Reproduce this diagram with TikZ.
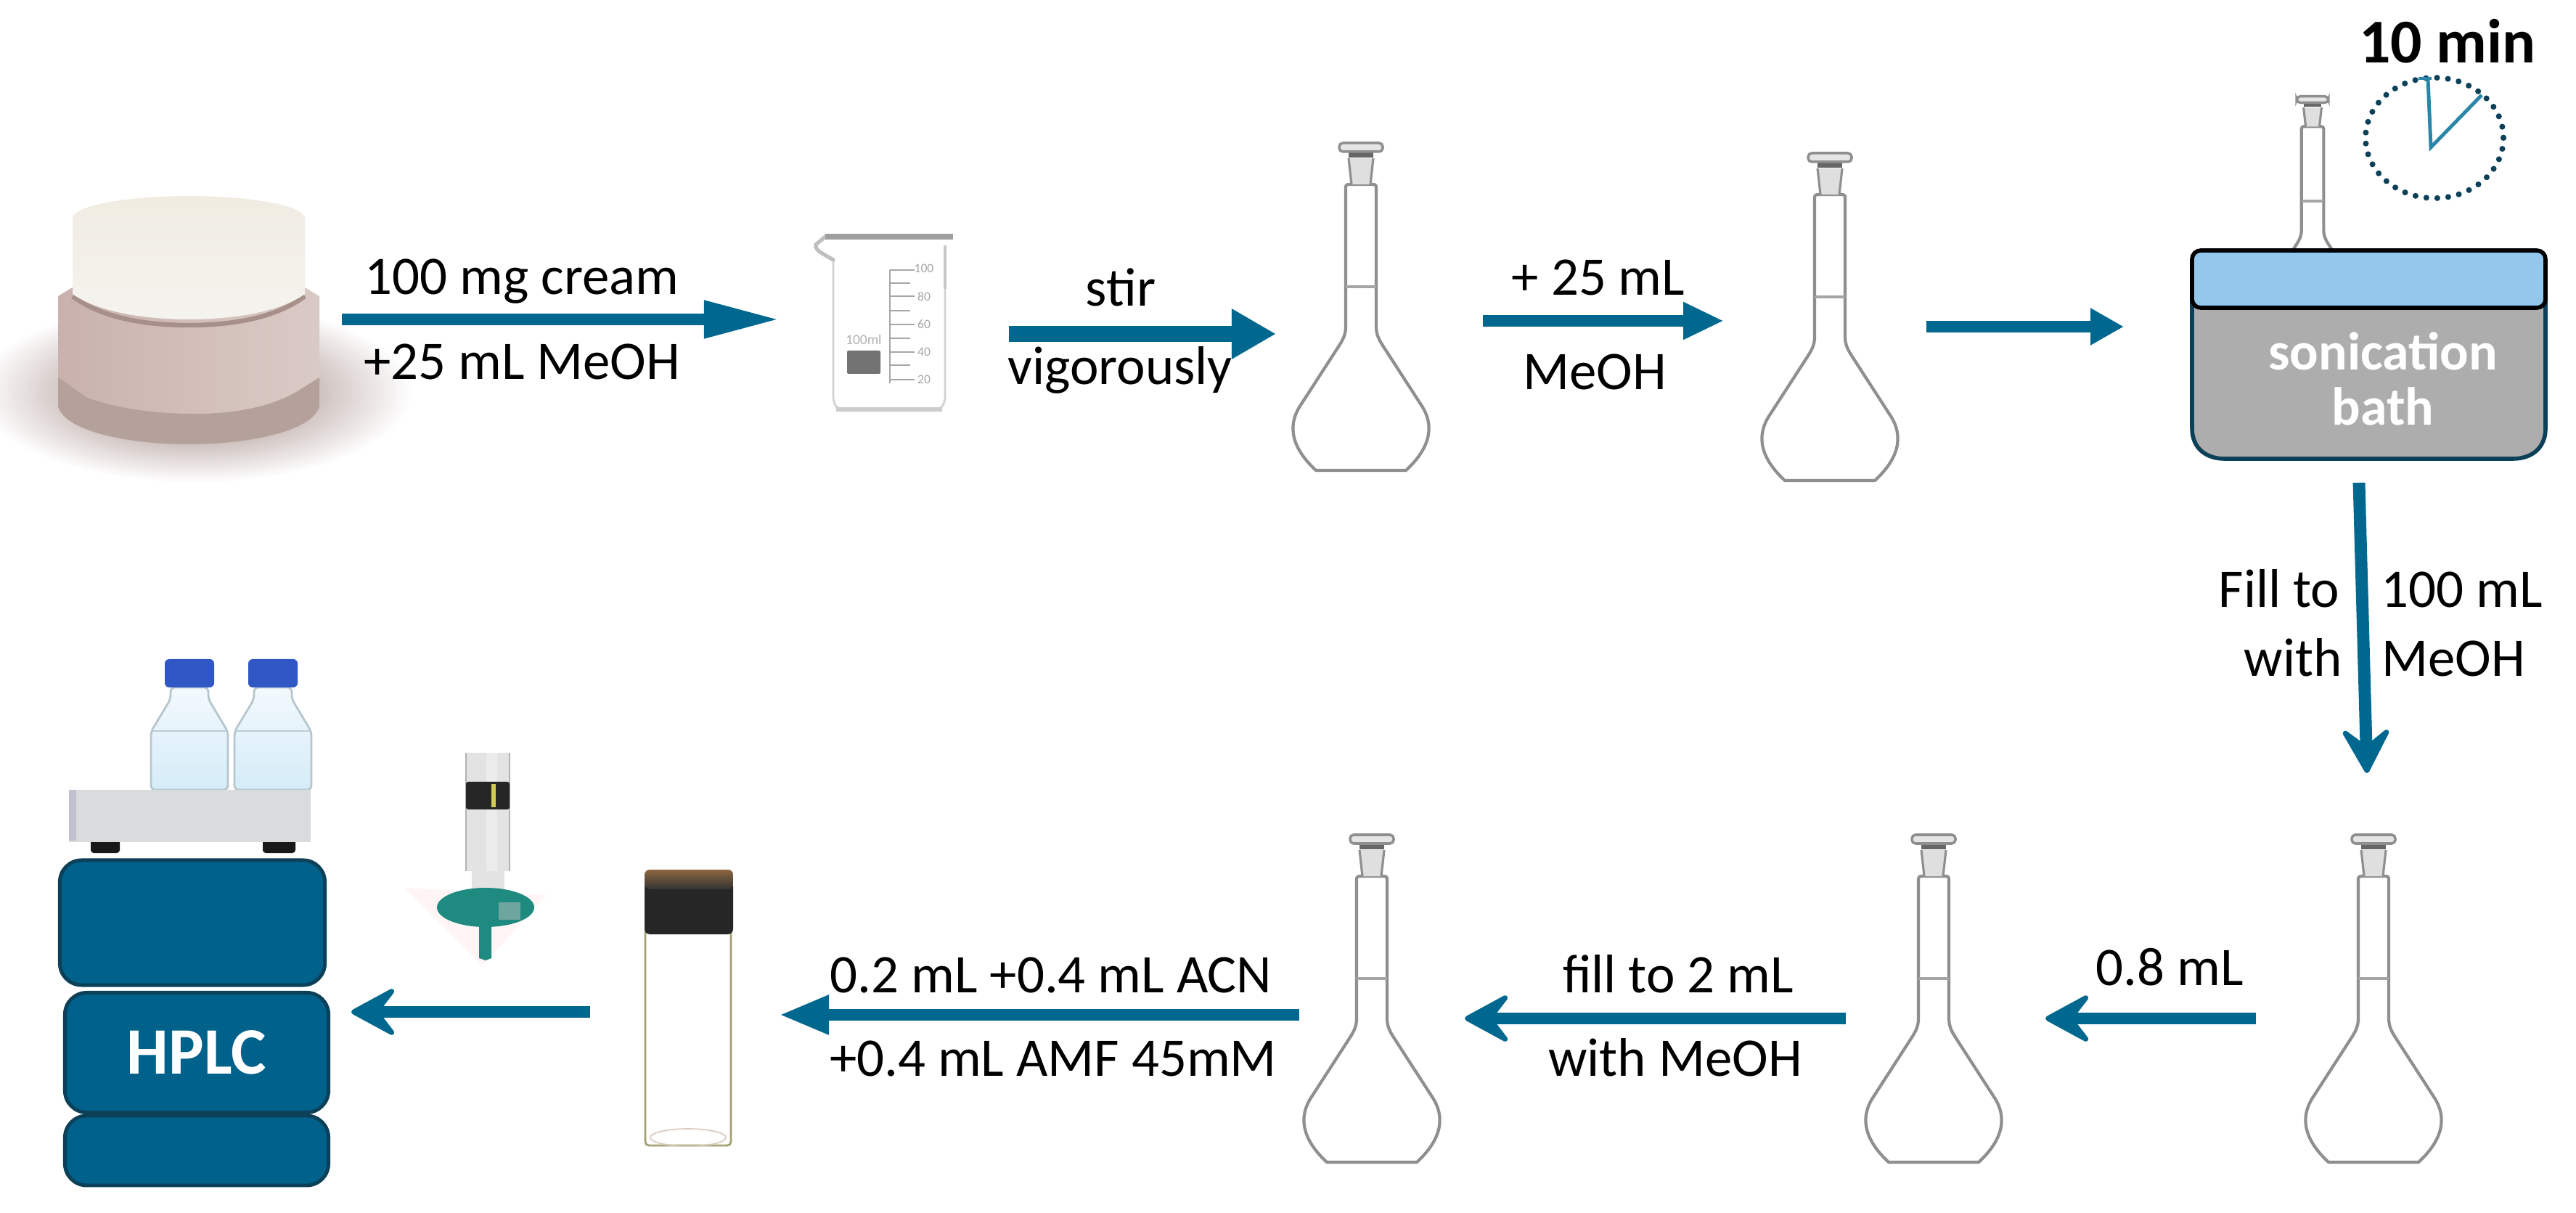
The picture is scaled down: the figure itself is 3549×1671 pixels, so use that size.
\documentclass[tikz,border=0pt]{standalone}
\usepackage{fontspec}
\setmainfont{Carlito}
\usetikzlibrary{arrows.meta}

\definecolor{flowblue}{HTML}{00688F}
\definecolor{hplcblue}{HTML}{00618A}
\definecolor{darkteal}{HTML}{0B4058}
\definecolor{glassgray}{HTML}{8F8F8F}
\definecolor{lidblue}{HTML}{93C8EC}
\definecolor{bathgray}{HTML}{ADADAD}
\definecolor{clockteal}{HTML}{2A86A8}
\definecolor{filterteal}{HTML}{1F8B80}
\definecolor{jarshadow}{HTML}{8E716A}
\definecolor{jarleft}{HTML}{C9B2AE}
\definecolor{jarpink}{HTML}{E2C8C3}
\definecolor{jarright}{HTML}{DACAC5}
\definecolor{jarglass}{HTML}{B5A19C}
\definecolor{jarring}{HTML}{A78F8A}
\definecolor{capcream}{HTML}{F0ECE2}
\definecolor{capwhite}{HTML}{F6F4F0}
\definecolor{capblue}{HTML}{3058C4}
\definecolor{waterpale}{HTML}{D5ECF8}
\definecolor{shelfgray}{HTML}{D8DCDC}

\tikzset{
  flowline/.style={draw=flowblue,line width=4.8pt},
  solidhead/.style 2 args={-{Triangle[length=#1cm,width=#2cm]}},
  barbhead/.style={-{Stealth[length=.72cm,width=.78cm,inset=.3cm,line width=2pt,round]}},
  lbl/.style={anchor=base,inner sep=0pt,font=\fontsize{21.3}{25}\selectfont},
  hplcbox/.style={draw=darkteal,line width=1.4pt,fill=hplcblue,rounded corners=.3cm,inner sep=0pt,
    text=white,font=\fontsize{26}{30}\selectfont\bfseries},
  pics/flask/.style={code={
    \draw[line width=1.2pt,glassgray,fill=white,line join=round]
      (-21,62) -- (-21,254) .. controls (-21,265) and (-25,272) .. (-30,280)
      -- (-85,365) .. controls (-97,385) and (-102,415) .. (-62,452) -- (62,452)
      .. controls (102,415) and (97,385) .. (85,365) -- (30,280)
      .. controls (25,272) and (21,265) .. (21,254) -- (21,62)
      .. controls (21,58) and (18,58) .. (16,58) -- (-16,58)
      .. controls (-18,58) and (-21,58) .. (-21,62) -- cycle;
    \draw[line width=1pt,glassgray!80] (-21,199) -- (21,199);
    \fill[gray!25] (-17,22) -- (17,22) -- (13,58) -- (-13,58) -- cycle;
    \draw[line width=.9pt,glassgray] (-17,22) -- (-13,58) (17,22) -- (13,58);
    \fill[black!60] (-17,13) rectangle (17,21);
    \draw[line width=1pt,glassgray,fill=gray!20,rounded corners=.05cm] (-30,1) rectangle (30,13);
  }},
  pics/bottle/.style={code={
    \shade[top color=white!70!waterpale,bottom color=waterpale,draw=gray!35!waterpale,line width=.8pt,rounded corners=.06cm]
      (-53,0) -- (-53,-80) -- (-26,-125) -- (-26,-141) -- (26,-141) -- (26,-125)
      -- (53,-80) -- (53,0) -- cycle;
    \draw[waterpale!70!gray,line width=.6pt] (-50,-81) -- (50,-81);
    \fill[capblue,rounded corners=.06cm] (-34,-141) rectangle (34,-180);
  }}
}

\begin{document}
\begin{tikzpicture}[x=0.01cm,y=-0.01cm]

  \path[use as bounding box,fill=white] (0,0) rectangle (3549,1671);

% Cream jar
  \shade[inner color=jarshadow,outer color=white,draw=none]
    (268,540) ellipse [x radius=300, y radius=125];
  \shade[left color=jarleft,middle color=jarpink,right color=jarright]
    (80,408) -- (80,560) .. controls (90,595) and (180,612) .. (260,612) .. controls (340,612) and (430,595) .. (440,560)
    -- (440,408) -- (420,396) -- (100,396) -- cycle;
  \fill[jarglass] (80,520) -- (120,548) .. controls (170,565) and (220,570) .. (270,570)
    .. controls (330,570) and (380,558) .. (413,537) -- (440,520) -- (440,560)
    .. controls (430,595) and (340,612) .. (260,612) .. controls (180,612) and (90,595) .. (80,560) -- cycle;
  \draw[jarring,line width=1.8pt] (100,408) .. controls (140,438) and (200,448) .. (260,448)
    .. controls (320,448) and (380,438) .. (420,408);
  \shade[top color=capcream,middle color=capwhite,bottom color=capwhite!90!capcream]
    (100,300) .. controls (105,280) and (190,270) .. (260,270) .. controls (330,270) and (415,280) .. (420,300)
    -- (420,405) .. controls (385,430) and (320,440) .. (260,440) .. controls (200,440) and (135,430) .. (100,405) -- cycle;

% Beaker
  \draw[line width=.8pt,gray!35,fill=white] (1148,358) -- (1148,545) .. controls (1148,560) and (1155,565) .. (1165,565)
    -- (1285,565) .. controls (1295,565) and (1302,560) .. (1302,545) -- (1302,338);
  \draw[line width=1.8pt,gray!40] (1152,564) -- (1298,564);
  \draw[line width=1.2pt,gray!45] (1302,338) -- (1302,398);
  \draw[line width=1.5pt,gray!50,line cap=round] (1148,358) .. controls (1135,350) and (1122,345) .. (1124,337) -- (1137,326);
  \draw[line width=2.4pt,gray!75] (1137,326) -- (1313,326);
  \draw[line width=.7pt,gray!70] (1226,372) -- (1226,528);
  \foreach \ty/\tx in {372/1260,390/1254,408/1260,428/1254,447/1260,466/1254,485/1260,503/1254,523/1260}
    \draw[line width=.7pt,gray!70] (1226,\ty) -- (\tx,\ty);
  \foreach \vname/\vy/\vtext in {vA/370/100,vB/409/80,vC/447/60,vD/485/40,vE/523/20}
    \node[text=gray!70,font=\fontsize{5}{6}\selectfont,inner sep=0pt] (\vname) at (1273,\vy) {\vtext};
  \node[text=gray!60,font=\fontsize{5.5}{6}\selectfont,inner sep=0pt] (bkvol) at (1190,468) {100ml};
  \fill[gray!90!black,rounded corners=.02cm] (1167,483) rectangle (1213,515);

% Flasks
  \pic (flaskA) at (1875,196) {flask};
  \pic (flaskB) at (2521,210) {flask};
  \pic (flaskC) at (3270,1149) {flask};
  \pic (flaskD) at (2664,1149) {flask};
  \pic (flaskE) at (1890,1149) {flask};
  \pic[scale=.73] (flaskF) at (3186,132) {flask};

% Sonication bath
  \draw[line width=1.6pt,darkteal,fill=bathgray] (3020,400) -- (3020,590) .. controls (3020,618) and (3040,632) .. (3065,632)
    -- (3462,632) .. controls (3487,632) and (3507,618) .. (3507,590) -- (3507,400) -- cycle;
  \draw[line width=1.6pt,black,fill=lidblue,rounded corners=.12cm] (3020,345) rectangle (3507,424);
  \node[align=center,text=white,inner sep=0pt,font=\fontsize{21}{21.6}\selectfont\bfseries] (bathtext) at (3283,522) {sonication\\bath};

% Clock
  \draw[darkteal,line width=2.3pt,line cap=round,dash pattern=on 0pt off 4.3pt] (3354,190) ellipse [x radius=95, y radius=83];
  \draw[clockteal,line width=1.4pt] (3345,109) -- (3349,203) -- (3419,131);
  \draw[clockteal,line width=1.2pt] (3332,108) -- (3350,108);

% Filter syringe
  \fill[red!4!white] (557,1223) -- (753,1233) -- (665,1330) -- cycle;
  \fill[gray!22] (642,1037) rectangle (702,1200);
  \fill[white!85!gray] (670,1037) rectangle (685,1200);
  \fill[gray!22] (650,1200) rectangle (695,1226);
  \draw[gray!60,line width=.7pt] (642,1037) -- (642,1200) (702,1037) -- (702,1200);
  \fill[black!85,rounded corners=.03cm] (642,1077) rectangle (702,1115);
  \fill[yellow!60!gray] (677,1080) rectangle (683,1112);
  \fill[filterteal] (669,1250) ellipse [x radius=67, y radius=27];
  \fill[filterteal] (660,1270) -- (677,1270) -- (677,1320) -- (669,1323) -- (660,1320) -- cycle;
  \fill[gray!50,opacity=.5] (687,1243) rectangle (717,1267);

% Vial
  \draw[line width=.8pt,black!30!yellow!45!gray,fill=white,rounded corners=.05cm] (889,1280) rectangle (1007,1578);
  \draw[line width=.5pt,orange!25!gray!40] (948,1567) ellipse [x radius=52, y radius=12];
  \fill[black!85,rounded corners=.07cm] (888,1215) rectangle (1010,1287);
  \shade[top color=black!40!orange!50!gray,bottom color=black!80,rounded corners=.07cm] (888,1198) rectangle (1010,1225);

% Solvent bottles and tray
  \pic (bottleA) at (261,1088) {bottle};
  \pic (bottleB) at (376,1088) {bottle};
  \fill[black!90,rounded corners=.04cm] (125,1155) rectangle (165,1175);
  \fill[black!90,rounded corners=.04cm] (362,1155) rectangle (407,1175);
  \fill[shelfgray] (95,1088) rectangle (428,1160);
  \fill[shelfgray!60!blue!30!gray!50] (95,1088) rectangle (105,1158);

% HPLC
  \node[hplcbox,minimum width=3.65cm,minimum height=1.72cm] (hplcA) at (265,1271) {};
  \node[hplcbox,minimum width=3.63cm,minimum height=1.65cm] (hplcB) at (271,1450) {HPLC};
  \node[hplcbox,minimum width=3.63cm,minimum height=.96cm] (hplcC) at (271,1585) {};

% Arrows
  \foreach \cname/\cx/\cy in {aAs/471/440,aAe/1075/440,aBs/1390/460,aBe/1758/460,aCs/2043/442,aCe/2375/442,
    aDs/2654/450,aDe/2926/450,aEs/3250/665,aEe/3261/1065,aFs/3108/1403,aFe/2818/1403,
    aGs/2543/1403,aGe/2018/1403,aHs/1790/1398,aHe/1073/1398,aIs/813/1394,aIe/484/1394}
    \coordinate (\cname) at (\cx,\cy);

  \draw[flowline,solidhead={1.05}{.48}] (aAs) -- (aAe);
  \draw[flowline,line width=6.4pt,solidhead={.61}{.65}] (aBs) -- (aBe);
  \draw[flowline,solidhead={.56}{.48}] (aCs) -- (aCe);
  \draw[flowline,solidhead={.46}{.48}] (aDs) -- (aDe);
  \draw[flowline,barbhead] (aEs) -- (aEe);
  \draw[flowline,barbhead] (aFs) -- (aFe);
  \draw[flowline,barbhead] (aGs) -- (aGe);
  \draw[flowline,solidhead={.69}{.50}] (aHs) -- (aHe);
  \draw[flowline,barbhead] (aIs) -- (aIe);

% Labels
  \foreach \lname/\lx/\ly/\ltext in {lA/719/406/{100 mg cream},lB/719/523/{+25 mL MeOH},lC/1544/422/{stir},
    lD/1543/530/{vigorously},lE/2202/407/{+ 25 mL},lF/2197/537/{MeOH},lG/3140/837/{Fill to},lH/3392/837/{100 mL},
    lI/3159/932/{with},lJ/3380/932/{MeOH},lK/2989/1357/{0.8 mL},lL/2312/1367/{fill to 2 mL},
    lM/2308/1482/{with MeOH},lN/1448/1367/{0.2 mL +0.4 mL ACN},lO/1451/1482/{+0.4 mL AMF 45mM}}
  \node[lbl] (\lname) at (\lx,\ly) {\ltext};

  \node[lbl,font=\fontsize{24.4}{28}\selectfont\bfseries] (clocktime) at (3372,87) {10 min};

\end{tikzpicture}
\end{document}
